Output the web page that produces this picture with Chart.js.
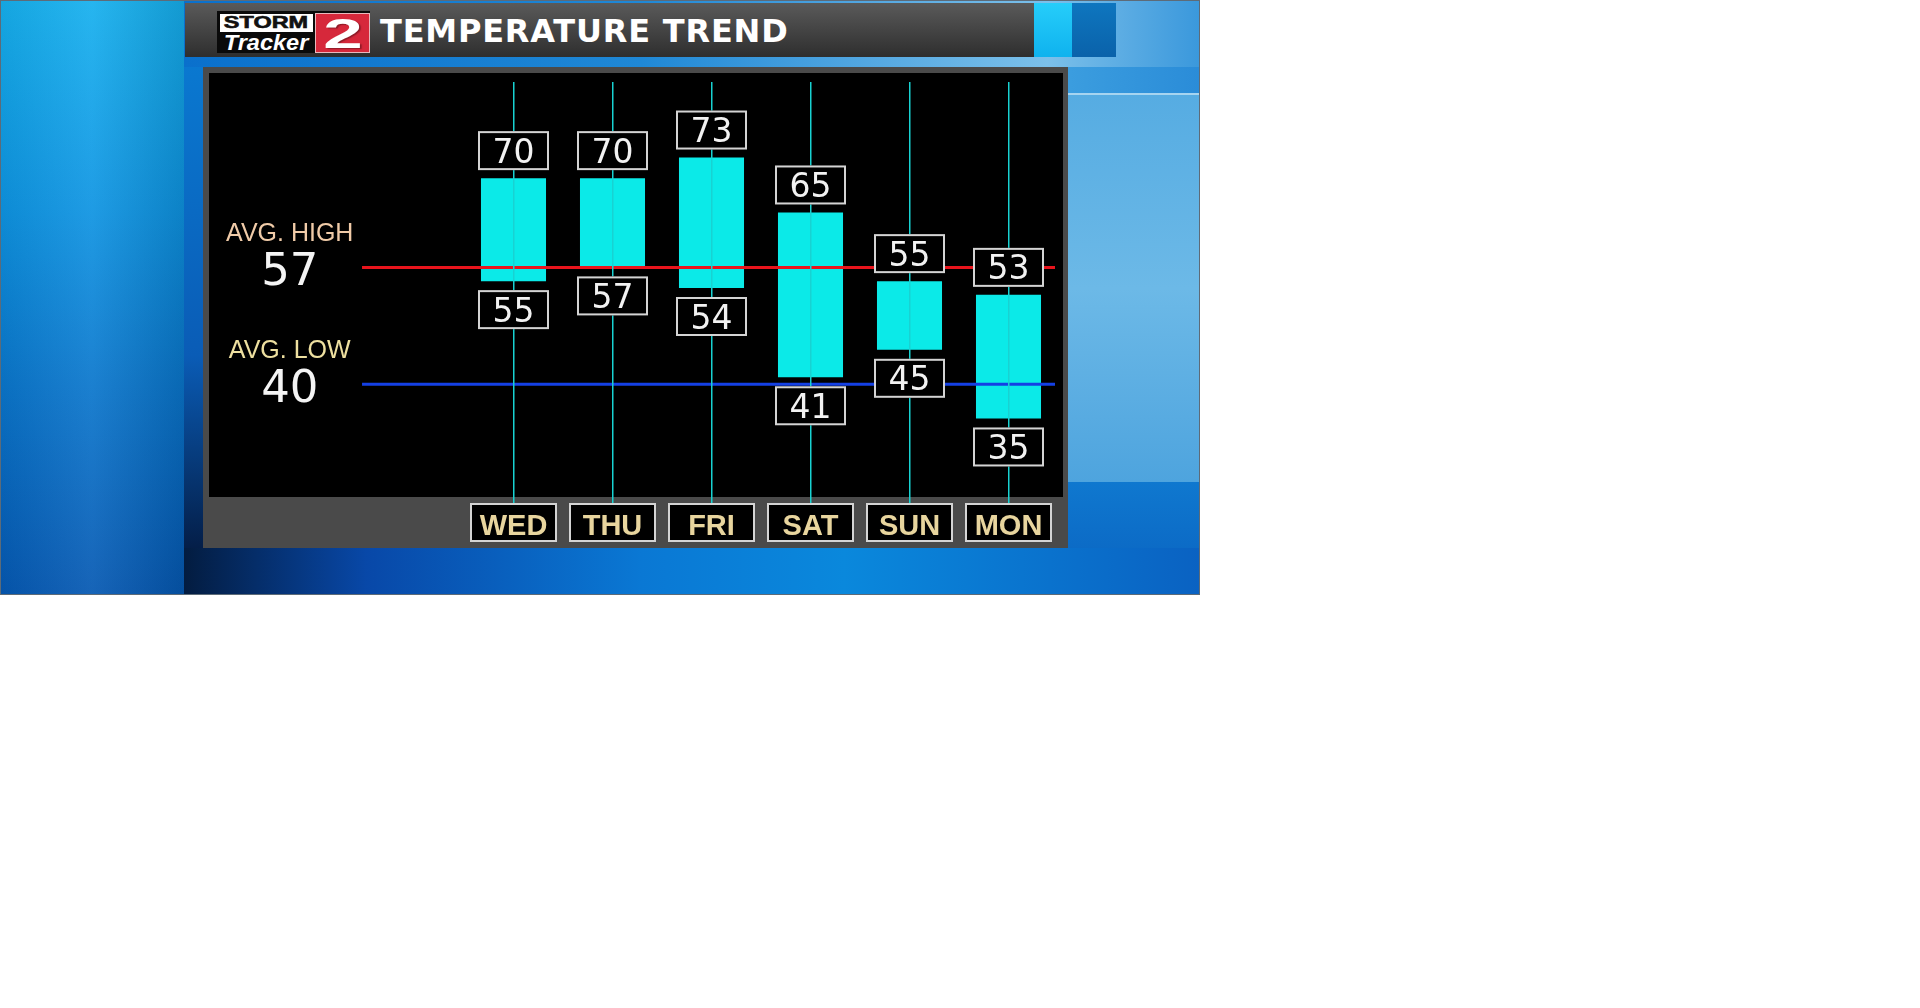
<!DOCTYPE html>
<html>
<head>
<meta charset="utf-8">
<script src="https://cdn.jsdelivr.net/npm/chart.js@4.4.1/dist/chart.umd.min.js"></script>
<style>
html,body{margin:0;padding:0;background:#fff;width:1920px;height:1008px;overflow:hidden;}
#stage{position:absolute;left:0;top:0;width:1200px;height:595px;overflow:hidden;background:#0b6fc6;}
.abs{position:absolute;}
#bgmain{left:184px;top:0;width:1016px;height:595px;background:linear-gradient(to right,#0a64c0 0%,#1a84d4 50%,#3ea0e0 85%,#2a8cd8 100%);}
#bgtop{left:184px;top:0;width:1016px;height:67px;background:linear-gradient(to right,#0a70cc 0%,#1f88d6 45%,#7cc0ea 85%,#3a98dc 100%);}
#bgright{left:1068px;top:93px;width:132px;height:387px;background:linear-gradient(to bottom,#56ace2,#6cb9e7 50%,#4ea4de);border-top:2px solid #a6d4f0;border-bottom:2px solid #9ccff0;}
#bgrightlow{left:1068px;top:482px;width:132px;height:113px;background:linear-gradient(to bottom,#0f78cf,#0a62c0);}
#bgbottom{left:184px;top:548px;width:1016px;height:47px;background:linear-gradient(to right,#031c40 0%,#0848a8 18%,#0a78d4 45%,#0a88dc 65%,#0a62c2 100%);}
#bgside{left:184px;top:67px;width:19px;height:481px;background:linear-gradient(to bottom,#0a78d0 0%,#0a5cb6 60%,#041e48 100%);}
#strip{left:0;top:0;width:184px;height:595px;background:linear-gradient(to right,rgba(0,0,0,0.06),rgba(255,255,255,0.07) 50%,rgba(0,0,0,0.12)),linear-gradient(to bottom,#16b0ee 0%,#0e94e2 35%,#0a76cc 65%,#0558b2 100%);}
#titlebar{left:185px;top:3px;width:849px;height:54px;background:linear-gradient(#5a5a5a,#2e2e2e);}
#cyanblk{left:1034px;top:3px;width:38px;height:54px;background:linear-gradient(#26cdfa,#0fb2ee);}
#blueblk{left:1072px;top:3px;width:44px;height:54px;background:linear-gradient(#0e76bf,#0a62aa);}
#panel{left:203px;top:67px;width:865px;height:481px;background:#4a4a4a;}
#inner{left:209px;top:73px;width:854px;height:424px;background:#000;}
#frame{left:0;top:0;width:1198px;height:593px;border:1px solid #5d6b78;}
#logobg{left:217px;top:11px;width:153px;height:42px;background:#0a0a0a;}
#storm{left:220px;top:14px;width:93px;height:18px;background:#fff;overflow:hidden;}
#storm span{position:absolute;left:46px;top:0;transform:translateX(-50%) scaleX(1.38);font:bold 17px "Liberation Sans",Arial,sans-serif;color:#111;line-height:18px;white-space:nowrap;-webkit-text-stroke:0.6px #111;}
#tracker{left:220px;top:32px;width:93px;height:20px;overflow:hidden;}
#tracker span{position:absolute;left:46px;top:1px;transform:translateX(-50%) scaleX(1.07);font:italic bold 22px "Liberation Sans",Arial,sans-serif;color:#fff;line-height:19px;white-space:nowrap;}
#two{left:315px;top:13px;width:53px;height:38px;background:#d6283b;border:1px solid #e8b8bc;overflow:hidden;}
#two span{position:absolute;left:27px;top:0;transform:translateX(-50%) scaleX(1.65);font:bold 43px "Liberation Sans",Arial,sans-serif;color:#fff;line-height:39px;text-shadow:1px 1px 1px rgba(0,0,0,0.35);}
#title{left:380px;top:15px;font:bold 32px "DejaVu Sans",sans-serif;line-height:32px;color:#fff;letter-spacing:0.8px;white-space:nowrap;}
canvas{position:absolute;left:0;top:0;}
</style>
</head>
<body>
<div id="stage">
  <div id="bgmain" class="abs"></div>
  <div id="bgtop" class="abs"></div>
  <div id="bgright" class="abs"></div>
  <div id="bgrightlow" class="abs"></div>
  <div id="bgbottom" class="abs"></div>
  <div id="bgside" class="abs"></div>
  <div id="strip" class="abs"></div>
  <div id="titlebar" class="abs"></div>
  <div id="cyanblk" class="abs"></div>
  <div id="blueblk" class="abs"></div>
  <div id="logobg" class="abs"></div>
  <div id="storm" class="abs"><span>STORM</span></div>
  <div id="tracker" class="abs"><span>Tracker</span></div>
  <div id="two" class="abs"><span>2</span></div>
  <div id="title" class="abs">TEMPERATURE TREND</div>
  <div id="panel" class="abs"></div>
  <div id="inner" class="abs"></div>
  <canvas id="c" width="1200" height="595" style="width:1200px;height:595px"></canvas>
  <div id="frame" class="abs"></div>
</div>
<script>
// ---- data ----
const days  = ['WED','THU','FRI','SAT','SUN','MON'];
const highs = [70, 70, 73, 65, 55, 53];
const lows  = [55, 57, 54, 41, 45, 35];
const avgHigh = 57;
const avgLow  = 40;
const avgHighLabel = 'AVG. HIGH';
const avgLowLabel  = 'AVG. LOW';
const yMin = 24;
const yMax = 84;

const NUM_FONT = '"DejaVu Sans", sans-serif';
const LBL_FONT = '"Liberation Sans", Arial, sans-serif';

function boxText(ctx, cx, top, w, h, text, font, color, baseOff) {
  ctx.fillStyle = '#000';
  ctx.fillRect(cx - w / 2, top, w, h);
  ctx.strokeStyle = '#d4d4d4';
  ctx.lineWidth = 2;
  ctx.strokeRect(cx - w / 2 + 1, top + 1, w - 2, h - 2);
  ctx.fillStyle = color;
  ctx.font = font;
  ctx.textAlign = 'center';
  ctx.textBaseline = 'alphabetic';
  ctx.fillText(text, cx, top + baseOff);
}

const deco = {
  id: 'deco',
  afterDatasetsDraw(chart) {
    const {ctx, chartArea: ca, scales: {x, y}} = chart;
    const step = x.getPixelForValue(1) - x.getPixelForValue(0);
    const x0 = ca.left - step * 1.03;
    const x1 = ca.right - 3;
    ctx.save();
    ctx.lineWidth = 3;
    [[avgHigh, '#e8141c'], [avgLow, '#1440e4']].forEach(([v, c]) => {
      const py = y.getPixelForValue(v);
      ctx.strokeStyle = c;
      ctx.beginPath(); ctx.moveTo(x0, py); ctx.lineTo(x1, py); ctx.stroke();
    });
    ctx.restore();
  },
  afterDraw(chart) {
    const {ctx, chartArea: ca, scales: {x, y}} = chart;
    const step = x.getPixelForValue(1) - x.getPixelForValue(0);
    ctx.save();
    days.forEach((d, i) => {
      const cx = x.getPixelForValue(i);
      const yt = y.getPixelForValue(highs[i]);
      const yb = y.getPixelForValue(lows[i]);
      boxText(ctx, cx, yt - 8 - 39, 71, 39, String(highs[i]), '33px ' + NUM_FONT, '#f2f2f2', 31.5);
      boxText(ctx, cx, yb + 9, 71, 39, String(lows[i]), '33px ' + NUM_FONT, '#f2f2f2', 31.5);
      boxText(ctx, cx, ca.bottom + 9, 87, 39, d, 'bold 29px ' + LBL_FONT, '#e8d59e', 32);
    });
    const lx = ca.left - step * 1.76;
    ctx.textAlign = 'center';
    ctx.textBaseline = 'alphabetic';
    [[avgHigh, avgHighLabel, '#f0cba8'], [avgLow, avgLowLabel, '#eee0a0']].forEach(([v, lbl, c]) => {
      const py = y.getPixelForValue(v);
      ctx.fillStyle = c;
      ctx.font = '25px ' + LBL_FONT;
      ctx.fillText(lbl, lx, py - 26);
      ctx.fillStyle = '#f4f4f4';
      ctx.font = '45px ' + NUM_FONT;
      ctx.fillText(String(v), lx, py + 18);
    });
    ctx.restore();
  }
};

new Chart(document.getElementById('c'), {
  type: 'bar',
  data: {
    labels: days,
    datasets: [{
      data: days.map((d, i) => [lows[i], highs[i]]),
      backgroundColor: '#0beae8',
      borderWidth: 0,
      barPercentage: 0.657,
      categoryPercentage: 1
    }]
  },
  options: {
    responsive: false,
    maintainAspectRatio: false,
    animation: false,
    devicePixelRatio: 1,
    layout: {padding: {left: 464, right: 142, top: 82, bottom: 92}},
    plugins: {legend: {display: false}, tooltip: {enabled: false}},
    scales: {
      x: {
        offset: true,
        grid: {offset: false, color: '#18d2d2', lineWidth: 1.5, z: 1, drawTicks: true, tickLength: 9},
        border: {display: false},
        ticks: {display: false}
      },
      y: {display: false, min: yMin, max: yMax}
    }
  },
  plugins: [deco]
});
</script>
</body>
</html>
